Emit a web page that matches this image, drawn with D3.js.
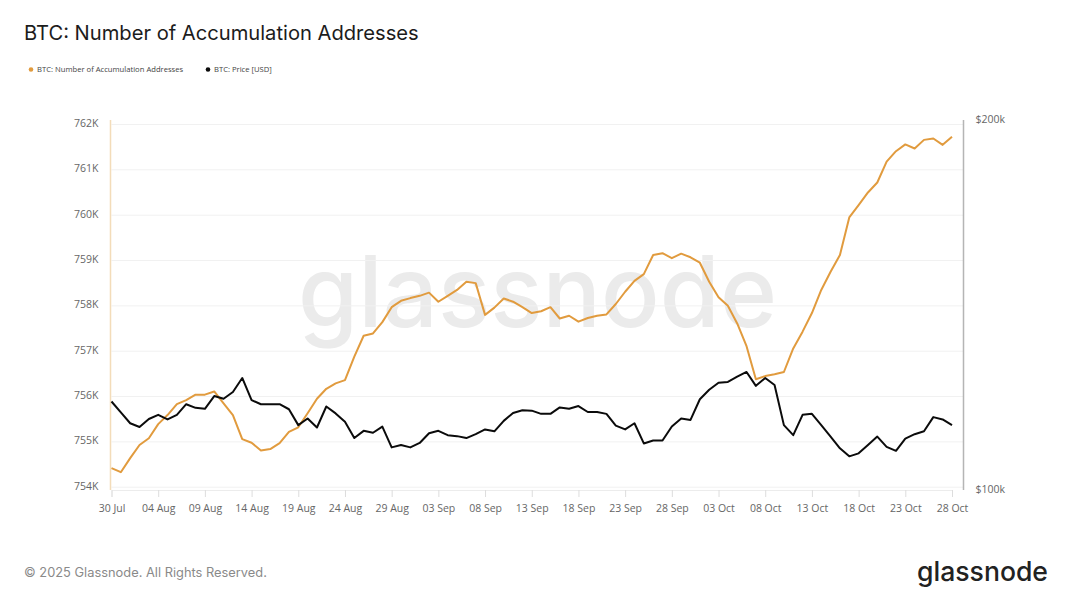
<!DOCTYPE html>
<html>
<head>
<meta charset="utf-8">
<script src="https://cdn.jsdelivr.net/npm/d3@7"></script>
<style>
html, body { margin: 0; padding: 0; background: #fff; }
text { font-family: "Open Sans", sans-serif; }
.title, .copy, .logo, .mark { font-family: Inter, sans-serif; }
</style>
</head>
<body>
<svg id="chart" width="1073" height="603"></svg>
<script>
// number of accumulation addresses, in thousands, one value per day
var addresses = [
754.41,754.32,754.63,754.92,755.07,755.38,755.58,755.82,755.91,756.03,
756.03,756.10,755.84,755.58,755.05,754.97,754.80,754.83,754.96,755.21,
755.31,755.62,755.94,756.16,756.28,756.35,756.87,757.33,757.38,757.63,
757.96,758.10,758.16,758.21,758.28,758.08,758.21,758.34,758.52,758.49,
757.79,757.95,758.15,758.08,757.96,757.83,757.87,757.96,757.71,757.77,
757.64,757.72,757.77,757.80,758.03,758.30,758.54,758.69,759.11,759.15,
759.04,759.14,759.06,758.94,758.52,758.18,757.99,757.60,757.10,756.37,
756.44,756.48,756.53,757.05,757.42,757.83,758.34,758.74,759.11,759.94,
760.21,760.49,760.71,761.17,761.40,761.55,761.46,761.65,761.68,761.54,
761.72
];

// BTC price in $k, one value per day
var price = [
117.9,115.5,113.2,112.4,114.1,115.0,114.0,115.0,117.3,116.5,
116.3,119.1,118.5,120.0,123.2,118.2,117.3,117.3,117.3,116.2,
112.8,114.2,112.3,116.8,115.3,113.5,110.1,111.6,111.2,112.5,
108.2,108.7,108.2,109.1,111.1,111.6,110.7,110.5,110.1,110.9,
111.9,111.5,113.7,115.4,116.0,115.9,115.2,115.2,116.6,116.3,
116.9,115.6,115.6,115.2,112.7,111.9,113.2,109.0,109.6,109.6,
112.5,114.2,113.9,118.4,120.5,122.1,122.3,123.5,124.6,121.4,
123.2,121.6,112.8,110.7,115.0,115.2,112.8,110.4,108.0,106.4,
107.0,108.7,110.4,108.3,107.5,110.0,110.9,111.5,114.5,114.0,
112.8
];

var leftTicks = [754,755,756,757,758,759,760,761,762];
var rightTicks = [100,200];
var legendNames = ["BTC: Number of Accumulation Addresses","BTC: Price [USD]"];
var colors = {addresses:"#e19b3e", price:"#0b0b0b"};

var days = d3.utcDay.range(new Date(Date.UTC(2025,6,30)), new Date(Date.UTC(2025,9,29)));
var tickDays = days.filter(function(d,i){ return i % 5 == 0; });

var svg = d3.select("#chart");
var plotLeft = 111.5, plotRight = 952, plotTop = 120, plotBottom = 490, axisRight = 963.5;

var x = d3.scaleUtc().domain([days[0], days[days.length-1]]).range([plotLeft, plotRight]);
var yLeft = d3.scaleLinear().domain([754,762]).range([486.7,124]);
var yRight = d3.scaleLog().domain([100,200]).range([489.5,119]);

// watermark sits under everything
svg.append("text").attr("class","mark")
    .attr("x",298).attr("y",327)
    .attr("textLength",479).attr("lengthAdjust","spacingAndGlyphs")
    .attr("font-size",99).attr("font-weight",500)
    .attr("fill","#ebebeb")
    .text("glassnode");

svg.append("text").attr("class","title")
    .attr("x",24).attr("y",39.5)
    .attr("font-size",20.15).attr("fill","#1c1c1c")
    .text("BTC: Number of Accumulation Addresses");

// legend
var legendX = [31,208];
legendNames.forEach(function(name,i){
    svg.append("circle").attr("cx",legendX[i]).attr("cy",69.5).attr("r",2.3)
        .attr("fill", i == 0 ? colors.addresses : colors.price);
    svg.append("text").attr("x",legendX[i]+6).attr("y",72.3)
        .attr("font-size",7.65).attr("fill","#444").text(name);
});

// left axis + gridlines
var gLeft = svg.append("g").attr("transform","translate("+plotLeft+",0)")
    .call(d3.axisLeft(yLeft).tickValues(leftTicks).tickSize(0).tickPadding(13)
        .tickFormat(function(d){ return d + "K"; }));
gLeft.select(".domain").remove();
gLeft.selectAll("text").attr("font-family",null).attr("font-size",10.5).attr("fill","#666")
    .attr("transform","translate(0,-1)");
gLeft.selectAll("line").attr("x1",0).attr("x2",axisRight-plotLeft).attr("stroke","#f1f1f1").attr("stroke-width",1);

svg.append("line").attr("x1",110.5).attr("x2",110.5).attr("y1",plotTop).attr("y2",plotBottom)
    .attr("stroke","#f3dcb9").attr("stroke-width",1.5);
svg.append("line").attr("x1",axisRight).attr("x2",axisRight).attr("y1",plotTop).attr("y2",plotBottom)
    .attr("stroke","#b5b5b5").attr("stroke-width",1.5);

// right axis
var gRight = svg.append("g").attr("transform","translate("+axisRight+",0)")
    .call(d3.axisRight(yRight).tickValues(rightTicks).tickSize(0).tickPadding(12)
        .tickFormat(function(d){ return "$" + d + "k"; }));
gRight.select(".domain").remove();
gRight.selectAll("text").attr("font-family",null).attr("font-size",10.5).attr("fill","#666");

// bottom axis
var gBottom = svg.append("g").attr("transform","translate(0,"+plotBottom+")")
    .call(d3.axisBottom(x).tickValues(tickDays).tickSize(7).tickPadding(8)
        .tickFormat(d3.utcFormat("%d %b")));
gBottom.select(".domain").attr("stroke","#ececec");
gBottom.selectAll("line").attr("stroke","#dddddd");
gBottom.selectAll("text").attr("font-family",null).attr("font-size",10.5).attr("fill","#666");

// series
var lineAddr = d3.line().x(function(d,i){ return x(days[i]); }).y(function(d){ return yLeft(d); });
var linePrice = d3.line().x(function(d,i){ return x(days[i]); }).y(function(d){ return yRight(d); });

svg.append("path").datum(addresses).attr("d",lineAddr)
    .attr("fill","none").attr("stroke",colors.addresses).attr("stroke-width",2).attr("stroke-linejoin","round");
svg.append("path").datum(price).attr("d",linePrice)
    .attr("fill","none").attr("stroke",colors.price).attr("stroke-width",2).attr("stroke-linejoin","round");

// footer
svg.append("text").attr("class","copy")
    .attr("x",24).attr("y",577)
    .attr("font-size",12.85).attr("fill","#8a8a8a")
    .text("© 2025 Glassnode. All Rights Reserved.");
svg.append("text").attr("class","logo")
    .attr("x",917).attr("y",581)
    .attr("textLength",131).attr("lengthAdjust","spacingAndGlyphs")
    .attr("font-size",27).attr("font-weight",500).attr("fill","#222")
    .text("glassnode");
</script>
</body>
</html>
